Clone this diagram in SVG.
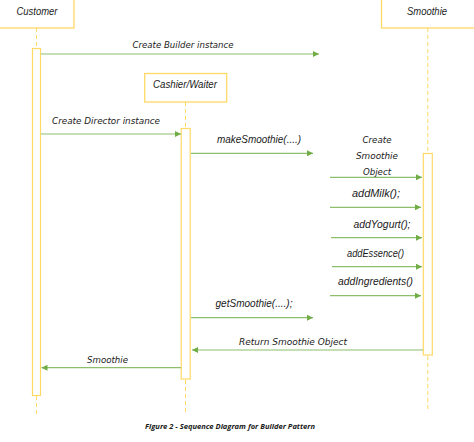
<svg xmlns="http://www.w3.org/2000/svg" width="474" height="442" viewBox="0 0 474 442">
<defs>
<style>
.box{fill:#fff;stroke:#FFD966;stroke-width:1.3}
.act{fill:#fff;stroke:#FFD966;stroke-width:1.2}
.life{stroke:#FFD966;stroke-width:1;stroke-dasharray:4,3;fill:none}
.msg{stroke:#8DBE6C;stroke-width:1.2;fill:none}
.t{font-family:"Liberation Sans",Arial,sans-serif;font-style:italic;font-size:10px;fill:#1a1a1a;text-anchor:middle}
.c{font-family:"DejaVu Sans",sans-serif;font-style:italic;font-size:9px;fill:#1a1a1a;text-anchor:middle}
.cap{font-family:"Open Sans","Liberation Sans",sans-serif;font-style:italic;font-weight:bold;font-size:7px;fill:#1a1a1a;text-anchor:middle}
</style>
<marker id="ah" viewBox="0 0 6 6" refX="6" refY="3" markerWidth="6" markerHeight="6" markerUnits="userSpaceOnUse" orient="auto">
<path d="M0,0 L6,3 L0,6 Z" fill="#70AD47"/>
</marker>
</defs>
<rect width="474" height="442" fill="#fff"/>
<g id="customer">
<rect class="box" x="-2" y="-2" width="76" height="30"/>
<text class="t" x="37" y="14.5" textLength="41" lengthAdjust="spacingAndGlyphs">Customer</text>
<line class="life" x1="36.5" y1="28" x2="36.5" y2="48"/>
<line class="life" x1="36.5" y1="396" x2="36.5" y2="414"/>
<rect class="act" x="32.5" y="48.5" width="8" height="347"/>
</g>
<g id="cashier">
<rect class="box" x="144.7" y="73.5" width="82" height="28.5"/>
<text class="t" x="185" y="88" textLength="64" lengthAdjust="spacingAndGlyphs">Cashier/Waiter</text>
<line class="life" x1="185.5" y1="102" x2="185.5" y2="128"/>
<line class="life" x1="185.5" y1="380" x2="185.5" y2="414"/>
<rect class="act" x="181.2" y="128.5" width="9" height="250.5"/>
</g>
<g id="smoothie">
<rect class="box" x="381.5" y="-2" width="95" height="30"/>
<text class="t" x="427" y="14.5" textLength="40" lengthAdjust="spacingAndGlyphs">Smoothie</text>
<line class="life" x1="427.8" y1="28" x2="427.8" y2="153"/>
<line class="life" x1="427.8" y1="356" x2="427.8" y2="412"/>
<rect class="act" x="423.3" y="153.5" width="9" height="201.5"/>
</g>
<g id="connectors">
<line class="msg" x1="41" y1="54" x2="319" y2="54" marker-end="url(#ah)"/>
<line class="msg" x1="41" y1="134" x2="181" y2="134" marker-end="url(#ah)"/>
<line class="msg" x1="191" y1="153.3" x2="313" y2="153.3" marker-end="url(#ah)"/>
<line class="msg" x1="330" y1="177.3" x2="422" y2="177.3" marker-end="url(#ah)"/>
<line class="msg" x1="330" y1="207.3" x2="421" y2="207.3" marker-end="url(#ah)"/>
<line class="msg" x1="331" y1="237.7" x2="422" y2="237.7" marker-end="url(#ah)"/>
<line class="msg" x1="332" y1="266.7" x2="422" y2="266.7" marker-end="url(#ah)"/>
<line class="msg" x1="330" y1="295.7" x2="421" y2="295.7" marker-end="url(#ah)"/>
<line class="msg" x1="191" y1="317.7" x2="313" y2="317.7" marker-end="url(#ah)"/>
<line class="msg" x1="423" y1="350" x2="192" y2="350" marker-end="url(#ah)"/>
<line class="msg" x1="181" y1="367.7" x2="41.5" y2="367.7" marker-end="url(#ah)"/>
</g>
<g id="labels">
<text class="c" x="183" y="48" textLength="101" lengthAdjust="spacingAndGlyphs">Create Builder instance</text>
<text class="c" x="106" y="123.5" textLength="108" lengthAdjust="spacingAndGlyphs">Create Director instance</text>
<text class="t" x="259" y="142.5" textLength="84" lengthAdjust="spacingAndGlyphs">makeSmoothie(....)</text>
<text class="c" x="377" y="143" textLength="29" lengthAdjust="spacingAndGlyphs">Create</text>
<text class="c" x="377" y="158.5" textLength="42" lengthAdjust="spacingAndGlyphs">Smoothie</text>
<text class="c" x="377" y="175" textLength="28" lengthAdjust="spacingAndGlyphs">Object</text>
<text class="t" x="376" y="196.5" textLength="48" lengthAdjust="spacingAndGlyphs">addMilk();</text>
<text class="t" x="382" y="227.5" textLength="57" lengthAdjust="spacingAndGlyphs">addYogurt();</text>
<text class="t" x="375.5" y="256.5" textLength="57" lengthAdjust="spacingAndGlyphs">addEssence()</text>
<text class="t" x="375.5" y="284.5" textLength="75" lengthAdjust="spacingAndGlyphs">addIngredients()</text>
<text class="t" x="254" y="307" textLength="77" lengthAdjust="spacingAndGlyphs">getSmoothie(....);</text>
<text class="c" x="293" y="345" textLength="108" lengthAdjust="spacingAndGlyphs">Return Smoothie Object</text>
<text class="c" x="107.5" y="363" textLength="41" lengthAdjust="spacingAndGlyphs">Smoothie</text>
</g>
<text class="cap" x="230" y="428.5" textLength="170" lengthAdjust="spacingAndGlyphs">Figure 2 - Sequence Diagram for Builder Pattern</text>
</svg>
